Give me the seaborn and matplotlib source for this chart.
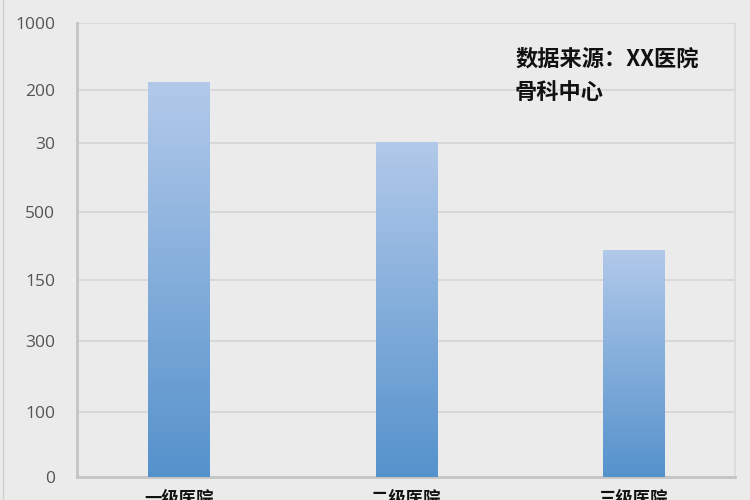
import numpy as np
import pandas as pd
import matplotlib
matplotlib.use("Agg")
import matplotlib.pyplot as plt
from matplotlib.colors import LinearSegmentedColormap
import seaborn as sns

# 数据
categories = ["一级医院", "二级医院", "三级医院"]
values = [870, 738, 500]
ytick_pos = [0, 143, 300, 434, 584, 736, 852, 1000]
ytick_labels = ["0", "100", "300", "150", "500", "30", "200", "1000"]
note = "数据来源：XX医院\n骨科中心"

sns.set_theme(style="white")
plt.rcParams["font.family"] = ["Noto Sans CJK SC", "DejaVu Sans"]

bg = "#ebebeb"
grid_c = "#d6d6d6"
spine_c = "#c4c4c4"

df = pd.DataFrame({"level": categories, "count": values})

fig = plt.figure(figsize=(7.5, 5), dpi=100, facecolor=bg)
ax = fig.add_axes([77 / 750, 23 / 500, (735 - 77) / 750, 454 / 500])
ax.set_facecolor(bg)

sns.barplot(data=df, x="level", y="count", width=0.27, color="#5a95cc", ax=ax, zorder=3)

# 渐变填充
cmap = LinearSegmentedColormap.from_list("bluegrad", ["#5592cc", "#b2c9ea"])
grad = np.linspace(0, 1, 256).reshape(-1, 1)
for p in ax.patches:
    x0, y0 = p.get_x(), p.get_y()
    w, h = p.get_width(), p.get_height()
    im = ax.imshow(grad, cmap=cmap, origin="lower", aspect="auto",
                   extent=[x0, x0 + w, y0, y0 + h], zorder=3)
    im.set_clip_path(p)
    p.set_facecolor("none")
    p.set_edgecolor("none")

ax.set_xlim(-0.449, 2.447)
ax.set_ylim(0, 1000)
ax.set_yticks(ytick_pos)
ax.set_yticklabels(ytick_labels, family=["Open Sans", "DejaVu Sans"])
ax.yaxis.grid(True, color=grid_c, linewidth=1.3, zorder=0)
ax.set_axisbelow(True)
ax.set_xlabel("")
ax.set_ylabel("")

ax.tick_params(axis="y", length=8.6, width=1.3, color=grid_c, pad=7,
               labelsize=12.5, labelcolor="#555555")
ax.tick_params(axis="x", length=0, pad=9.5, labelsize=12.5, labelcolor="#111111")
for lab in ax.get_xticklabels():
    lab.set_fontweight("bold")

for s in ["left", "bottom"]:
    ax.spines[s].set_color(spine_c)
    ax.spines[s].set_linewidth(2)
ax.spines["right"].set_color("#d9d9d9")
ax.spines["right"].set_linewidth(1.2)
ax.spines["top"].set_visible(False)

ax.text(515 / 750, 1 - 48 / 500, note, transform=fig.transFigure,
        fontsize=16, fontweight="bold", color="#111111",
        ha="left", va="top", linespacing=1.55)

fig.add_artist(plt.Line2D([2.5 / 750, 2.5 / 750], [0, 1], transform=fig.transFigure,
                          color="#d0d0d0", linewidth=1))

fig.savefig("out.png", dpi=100, facecolor=bg)
